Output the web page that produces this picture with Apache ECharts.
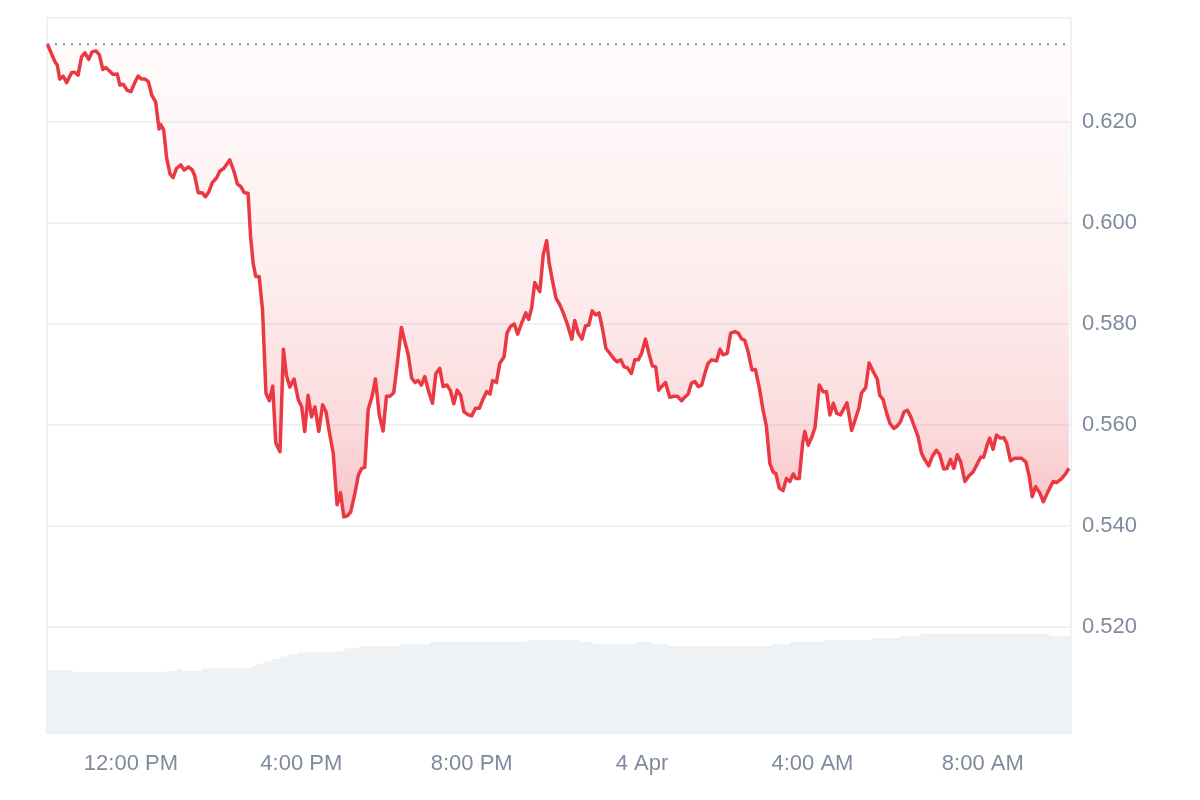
<!DOCTYPE html>
<html>
<head>
<meta charset="utf-8">
<style>
  html, body { margin: 0; padding: 0; background: #ffffff; }
  #chart { width: 1200px; height: 800px; }
</style>
<script src="https://cdn.jsdelivr.net/npm/echarts@6/dist/echarts.min.js"></script>
</head>
<body>
<div id="chart"></div>
<script>
// Time in hours since 00:00 on 3 Apr (24 = 4 Apr 00:00)
const times = [
10.04,10.22,10.27,10.33,10.41,10.49,10.61,10.69,10.76,10.84,10.92,11.01,11.09,11.18,11.26,11.34,11.41,11.51,11.58,11.68,
11.74,11.82,11.91,12.00,12.09,12.17,12.25,12.33,12.41,12.49,12.58,12.66,12.70,12.77,12.84,12.92,12.99,13.07,13.17,13.25,
13.35,13.44,13.50,13.58,13.67,13.75,13.83,13.91,14.01,14.09,14.18,14.32,14.42,14.50,14.58,14.66,14.75,14.81,14.87,14.93,
15.01,15.09,15.17,15.25,15.33,15.40,15.50,15.58,15.65,15.73,15.83,15.93,16.01,16.08,16.16,16.24,16.32,16.41,16.50,16.58,
16.65,16.75,16.84,16.92,17.00,17.08,17.16,17.26,17.34,17.42,17.49,17.57,17.66,17.74,17.83,17.92,18.00,18.08,18.17,18.25,
18.35,18.43,18.51,18.59,18.67,18.74,18.82,18.90,18.98,19.08,19.16,19.25,19.33,19.42,19.50,19.58,19.66,19.74,19.82,19.92,
20.00,20.09,20.18,20.26,20.35,20.43,20.49,20.58,20.66,20.76,20.83,20.91,21.00,21.08,21.17,21.27,21.34,21.41,21.48,21.55,
21.60,21.68,21.76,21.82,21.90,21.98,22.07,22.15,22.24,22.35,22.42,22.50,22.59,22.67,22.75,22.83,22.91,22.99,23.07,23.15,
23.24,23.35,23.42,23.50,23.58,23.66,23.75,23.83,23.91,23.99,24.08,24.16,24.24,24.32,24.39,24.47,24.55,24.65,24.75,24.83,
24.93,25.00,25.08,25.16,25.24,25.32,25.40,25.47,25.55,25.63,25.75,25.83,25.90,26.00,26.08,26.18,26.26,26.34,26.41,26.49,
26.58,26.66,26.75,26.84,26.92,27.00,27.08,27.14,27.22,27.31,27.39,27.47,27.55,27.61,27.69,27.77,27.82,27.90,27.99,28.06,
28.16,28.25,28.33,28.41,28.49,28.57,28.66,28.74,28.81,28.92,29.00,29.09,29.15,29.25,29.33,29.42,29.52,29.58,29.66,29.74,
29.82,29.91,29.99,30.07,30.15,30.23,30.31,30.40,30.48,30.56,30.64,30.73,30.81,30.91,30.99,31.08,31.16,31.24,31.32,31.40,
31.48,31.58,31.67,31.77,31.87,31.95,32.02,32.10,32.16,32.24,32.32,32.41,32.49,32.56,32.65,32.75,32.91,33.01,33.09,33.16,
33.24,33.34,33.42,33.53,33.65,33.73,33.85,33.95,34.02
];
const prices = [
0.6354,0.6319,0.6313,0.6285,0.6291,0.6278,0.6298,0.6298,0.6293,0.6329,0.6337,0.6324,0.6339,0.6341,0.6333,0.6304,0.6308,0.6300,0.6294,0.6295,
0.6273,0.6275,0.6263,0.6260,0.6278,0.6291,0.6285,0.6285,0.6280,0.6253,0.6240,0.6186,0.6195,0.6184,0.6128,0.6097,0.6090,0.6108,0.6115,0.6105,
0.6111,0.6105,0.6093,0.6060,0.6060,0.6052,0.6062,0.6080,0.6089,0.6103,0.6108,0.6125,0.6102,0.6077,0.6072,0.6060,0.6059,0.5973,0.5920,0.5894,
0.5894,0.5828,0.5663,0.5648,0.5677,0.5565,0.5547,0.5750,0.5699,0.5675,0.5691,0.5650,0.5636,0.5587,0.5659,0.5616,0.5636,0.5587,0.5640,0.5626,
0.5590,0.5544,0.5442,0.5466,0.5418,0.5420,0.5428,0.5465,0.5501,0.5514,0.5516,0.5630,0.5656,0.5691,0.5620,0.5588,0.5657,0.5657,0.5664,0.5719,
0.5793,0.5765,0.5739,0.5693,0.5684,0.5688,0.5679,0.5696,0.5669,0.5643,0.5702,0.5712,0.5676,0.5679,0.5668,0.5642,0.5669,0.5659,0.5626,0.5620,
0.5618,0.5633,0.5633,0.5650,0.5666,0.5661,0.5688,0.5684,0.5722,0.5735,0.5782,0.5795,0.5800,0.5780,0.5801,0.5822,0.5809,0.5833,0.5882,0.5871,
0.5864,0.5937,0.5965,0.5920,0.5884,0.5851,0.5838,0.5822,0.5801,0.5770,0.5807,0.5782,0.5770,0.5796,0.5798,0.5826,0.5818,0.5822,0.5791,0.5752,
0.5742,0.5730,0.5725,0.5729,0.5715,0.5713,0.5702,0.5729,0.5729,0.5742,0.5770,0.5742,0.5717,0.5715,0.5669,0.5677,0.5684,0.5655,0.5657,0.5657,
0.5648,0.5655,0.5661,0.5683,0.5686,0.5676,0.5679,0.5701,0.5722,0.5729,0.5727,0.5750,0.5739,0.5742,0.5782,0.5785,0.5782,0.5770,0.5768,0.5745,
0.5709,0.5710,0.5675,0.5630,0.5597,0.5524,0.5506,0.5504,0.5475,0.5470,0.5494,0.5488,0.5503,0.5494,0.5494,0.5564,0.5587,0.5560,0.5577,0.5595,
0.5679,0.5666,0.5666,0.5620,0.5643,0.5623,0.5620,0.5633,0.5644,0.5589,0.5610,0.5633,0.5663,0.5674,0.5723,0.5707,0.5691,0.5659,0.5650,0.5624,
0.5603,0.5593,0.5598,0.5607,0.5626,0.5629,0.5616,0.5595,0.5577,0.5544,0.5531,0.5519,0.5537,0.5550,0.5541,0.5513,0.5514,0.5532,0.5514,0.5541,
0.5527,0.5488,0.5499,0.5507,0.5523,0.5536,0.5536,0.5560,0.5574,0.5552,0.5580,0.5574,0.5575,0.5564,0.5529,0.5534,0.5534,0.5527,0.5498,0.5458,
0.5478,0.5465,0.5448,0.5468,0.5488,0.5486,0.5494,0.5504,0.5514
];
// Volume (millions), step changes
const volTimes = [10.03,10.64,12.66,13.08,13.19,13.67,14.82,14.93,15.10,15.31,15.50,15.69,15.92,16.74,17.02,17.35,18.34,19.02,21.30,22.52,22.85,23.88,24.25,24.63,27.02,27.47,28.29,29.39,30.05,30.54,33.57,34.07];
const volValues = [881,849,874,906,871,905,937,965,1000,1035,1070,1101,1129,1154,1185,1217,1245,1273,1301,1273,1245,1273,1245,1217,1245,1273,1301,1329,1357,1385,1357,1357];

const xTickValues = [12, 16, 20, 24, 28, 32];
const xTickLabels = ['12:00 PM', '4:00 PM', '8:00 PM', '4 Apr', '4:00 AM', '8:00 AM'];
const yTickValues = [0.52, 0.54, 0.56, 0.58, 0.60, 0.62];

const baseline = prices[0];
const priceData = times.map((t, i) => [t, prices[i]]);
const volData = volTimes.map((t, i) => [t, volValues[i]]);
const xMin = 10.03, xMax = 34.07;

const chart = echarts.init(document.getElementById('chart'), null, { renderer: 'canvas' });
const FONT = '"Liberation Sans", Arial, Helvetica, sans-serif';

function renderGapArea(params, api) {
  const pts = priceData.map(p => api.coord(p));
  pts.push(api.coord([times[times.length - 1], baseline]));
  pts.push(api.coord([times[0], baseline]));
  const a = api.coord([xMin, baseline]);
  const b = api.coord([times[times.length - 1], baseline]);
  return {
    type: 'group',
    children: [{
      type: 'polygon',
      shape: { points: pts },
      style: {
        fill: new echarts.graphic.LinearGradient(0, 0, 0, 1, [
          { offset: 0, color: 'rgba(234,57,67,0.02)' },
          { offset: 0.5, color: 'rgba(234,57,67,0.09)' },
          { offset: 0.8, color: 'rgba(234,57,67,0.18)' },
          { offset: 1, color: 'rgba(234,57,67,0.30)' }
        ]),
        stroke: 'none'
      },
      silent: true
    }, {
      type: 'line',
      shape: { x1: a[0], y1: a[1], x2: b[0], y2: b[1] },
      style: { stroke: '#808a9d', lineWidth: 2, lineDash: [2, 6], fill: 'none' },
      silent: true
    }]
  };
}

chart.setOption({
  animation: false,
  backgroundColor: '#ffffff',
  grid: {
    left: 47, right: 129, top: 18, bottom: 67,
    show: true, borderColor: '#eff2f5', borderWidth: 2, backgroundColor: 'transparent'
  },
  xAxis: {
    type: 'value',
    min: xMin, max: xMax,
    axisLine: { show: false },
    axisTick: { show: false, customValues: xTickValues },
    splitLine: { show: false },
    axisLabel: {
      customValues: xTickValues,
      margin: 20,
      color: '#808a9d',
      fontSize: 22,
      fontFamily: FONT,
      formatter: function (v) {
        const i = xTickValues.indexOf(Math.round(v));
        return i >= 0 ? xTickLabels[i] : '';
      }
    }
  },
  yAxis: [{
    type: 'value',
    position: 'right',
    min: 0.499, max: 0.6406,
    axisLine: { show: false },
    axisTick: { show: false, customValues: yTickValues },
    splitLine: { show: true, lineStyle: { color: '#eff2f5', width: 2 } },
    axisLabel: {
      customValues: yTickValues,
      margin: 11,
      color: '#808a9d',
      fontSize: 22,
      fontFamily: FONT,
      formatter: function (v) { return v.toFixed(3); }
    }
  }, {
    type: 'value',
    min: 0, max: 10000,
    show: false,
    splitLine: { show: false }
  }],
  series: [
    {
      name: 'Volume',
      type: 'line',
      yAxisIndex: 1,
      step: 'end',
      data: volData,
      symbol: 'none',
      lineStyle: { width: 0, color: '#eff2f5' },
      areaStyle: { color: '#eff2f5', opacity: 1 },
      z: 1,
      silent: true
    },
    {
      name: 'Gap',
      type: 'custom',
      renderItem: renderGapArea,
      data: [[times[0], baseline]],
      clip: true,
      z: 2,
      silent: true
    },
    {
      name: 'Price',
      type: 'line',
      data: priceData,
      symbol: 'none',
      lineStyle: { color: '#ea3943', width: 3.5, join: 'round' },
      itemStyle: { color: '#ea3943' },
      z: 4
    }
  ]
});
</script>
</body>
</html>
